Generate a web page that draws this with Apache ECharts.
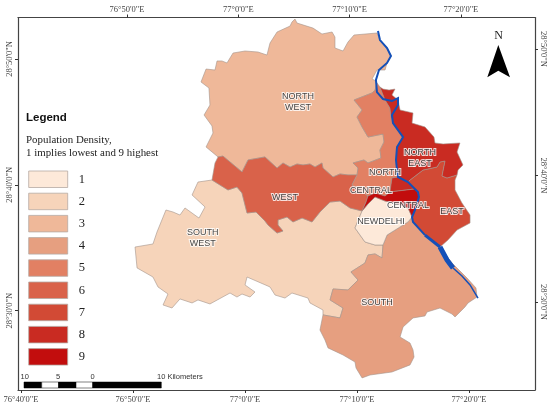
<!DOCTYPE html>
<html>
<head>
<meta charset="utf-8">
<title>Delhi population density</title>
<style>
    html, body { margin: 0; padding: 0; background: #fff; }
    #chart { width: 550px; height: 408px; }
</style>
<script src="https://cdn.jsdelivr.net/npm/echarts@6/dist/echarts.min.js"></script>
</head>
<body>
<div id="chart"></div>
<script>
// all boundaries are in arc minutes: [minutes east of 76°40', minutes north of 28°30']

// boundary pieces, shared between neighbouring districts
const nwOuter = [[17.86,11.87],[16.79,12.66],[17.41,13.77],[17.32,14.33],[16.61,15.20],[17.14,15.99],[17.05,17.34],[16.34,17.82],[16.79,18.85],[17.59,18.77],[17.77,19.49],[18.21,19.49],[18.66,19.33],[19.20,20.12],[20.27,20.28],[21.43,20.20],[22.23,19.96],[22.50,20.91],[23.13,21.79],[24.29,22.26],[24.46,22.58],[24.73,22.82],[24.91,22.50],[26.34,22.10],[27.14,21.63],[28.04,21.79],[28.30,21.39],[28.30,20.52],[29.02,20.28],[29.46,20.99],[30.00,21.55],[32.05,21.71],[32.32,21.15],[32.95,20.52],[33.30,19.88],[32.95,19.33],[32.77,18.77],[32.05,18.77],[31.61,18.06],[31.96,17.90],[32.05,17.74]]
const nwNorth = [[32.05,17.74],[31.88,17.18],[31.61,16.95],[30.00,16.39],[30.72,15.60],[30.27,15.04],[30.72,14.25],[31.25,13.45],[32.59,13.69],[32.68,13.06],[32.32,12.42],[32.41,11.79],[31.25,11.39],[30.89,11.63],[29.91,11.39],[30.36,10.99],[30.27,10.44]]
const nwWest = [[30.27,10.44],[29.46,10.44],[28.75,10.52],[28.13,10.28],[27.23,10.99],[27.14,11.39],[26.52,11.07],[26.07,11.31],[25.45,11.23],[24.91,11.31],[24.29,11.07],[23.66,11.39],[23.13,10.99],[22.05,11.87],[20.54,11.63],[20.00,10.68],[18.30,11.94],[17.86,11.87]]
const westLeft = [[17.86,11.87],[17.59,11.39],[17.32,10.04]]
const westSouth = [[17.32,10.04],[18.75,9.25],[19.55,9.48],[20.00,9.01],[20.45,7.42],[21.25,7.50],[22.05,6.79],[22.32,6.47],[23.13,5.83],[23.66,5.99],[23.21,6.47],[23.21,6.87],[24.02,7.10],[24.55,6.71],[25.36,7.02],[26.25,6.71],[26.96,7.50],[27.86,8.29],[28.75,8.37],[29.64,7.82],[30.72,7.58]]
const westEast = [[30.72,7.58],[31.07,8.29],[31.25,8.77],[30.54,9.25],[29.82,9.64],[30.27,10.44]]
const northStrip = [[31.25,8.77],[31.88,9.01],[32.77,8.77],[33.21,9.09]]
const northRiver = [[32.32,17.42],[32.77,16.39],[33.21,15.75],[33.30,15.04],[33.48,14.56],[34.38,13.45],[33.84,12.66],[33.75,11.63],[33.84,10.83],[33.93,10.28]]
const neTop = [[32.32,17.42],[32.59,17.26],[33.13,17.18],[33.66,17.26],[33.39,16.79],[33.93,16.39],[34.11,15.60],[35.27,15.36],[35.18,14.56],[36.34,14.25],[37.14,13.45],[37.23,12.98],[37.95,12.90],[39.46,12.98],[39.20,12.26],[39.73,11.23],[39.29,10.83],[39.20,10.44]]
const neEast = [[39.20,10.44],[38.30,10.20],[37.86,10.36],[38.13,11.55],[37.68,11.47],[37.41,11.07],[36.16,10.83],[35.00,10.04],[34.82,9.88]]
const eastRight = [[39.20,10.44],[39.02,10.04],[39.02,9.25],[39.64,8.21],[40.36,7.26],[40.36,6.63],[39.20,6.07],[38.39,5.28],[37.68,4.72]]
const eastRiver = [[34.82,9.88],[35.71,9.09],[35.80,8.69],[35.45,7.66],[35.18,7.10],[35.27,6.71],[36.34,5.67],[37.68,4.72]]
const centralPieceRed = [[33.39,10.20],[33.93,10.28],[34.82,9.88],[35.45,9.33],[33.21,9.09]]
const centralLower = [[35.45,9.33],[35.71,9.09],[35.80,8.69],[35.45,7.66],[35.18,7.10]]
const newDelhiTop = [[30.72,7.58],[31.25,8.14],[31.88,8.69],[32.77,8.37],[33.66,8.21],[34.82,7.82],[35.18,7.10]]
const newDelhiSouth = [[35.18,7.10],[34.82,6.71],[32.95,5.67],[32.59,4.88]]
const newDelhiWest = [[32.59,4.88],[31.88,4.88],[30.98,5.12],[30.09,6.23],[30.72,7.58]]
const southEast = [[35.18,7.10],[35.27,6.71],[36.07,6.15],[36.52,6.23],[36.79,5.60],[37.68,4.72],[38.75,3.45],[40.09,2.26],[40.89,1.47],[40.98,0.75],[40.18,0.28],[39.91,-0.04],[39.02,-0.83],[38.75,-0.60],[37.68,-0.12],[36.52,-0.44],[36.34,-0.75],[35.27,-0.91],[34.38,-1.63],[34.11,-2.42],[35.00,-2.90],[35.27,-3.45],[35.36,-4.01],[35.00,-4.64],[33.39,-5.20],[31.43,-5.44],[30.72,-5.67],[30.18,-4.88],[30.09,-4.41],[29.02,-3.85],[27.68,-3.29],[27.41,-2.66],[26.96,-1.87],[27.23,-0.67],[28.75,-0.91]]
const southWestEdge = [[28.75,-0.91],[29.02,-0.12],[27.86,0.52],[28.13,1.39],[29.46,1.31],[30.36,2.10],[29.73,2.74],[30.98,3.45],[31.25,4.09],[31.88,4.17],[32.50,3.85],[32.59,4.88]]
const swOuter = [[17.32,10.04],[16.07,9.88],[15.54,8.85],[16.70,7.90],[16.16,7.02],[14.91,7.82],[14.46,7.26],[13.84,7.50],[13.21,7.66],[12.41,5.91],[12.05,4.96],[10.45,4.72],[10.63,3.06],[12.05,2.34],[12.50,1.55],[13.39,0.99],[12.95,0.12],[13.75,-0.12],[14.46,0.60],[15.54,0.28],[16.07,0.52],[17.14,0.20],[18.93,1.07],[19.55,0.75],[20.00,0.99],[20.72,0.75],[21.16,1.15],[20.27,1.71],[20.45,2.34],[22.50,1.55],[22.95,0.91],[23.84,0.67],[24.46,1.07],[25.89,0.67],[26.07,0.28],[27.23,-0.28],[27.23,-0.67],[28.75,-0.91]]

// river Yamuna, upper course, wide reach, tail
const riverUpper = [[32.14,21.87],[32.32,21.15],[32.95,20.52],[33.30,19.88],[32.95,19.33],[32.23,18.77],[31.96,17.98],[32.05,17.02],[32.59,16.47],[33.39,16.31],[33.93,16.55],[33.93,15.99],[33.39,15.20],[33.48,14.56],[34.38,13.45],[33.84,12.66],[33.75,11.63],[33.84,10.83],[33.93,10.28],[34.82,9.88],[35.71,9.09],[35.80,8.69],[35.45,7.66],[35.18,7.10],[35.27,6.71],[36.34,5.67]]
const riverMiddle = [[36.34,5.67],[37.68,4.72]]
const riverWide = [[37.68,4.72],[38.30,3.69],[38.84,3.06]]
const riverTail = [[38.84,3.06],[39.64,2.42],[40.36,1.71],[41.07,0.67]]

// density classes
const classValues = [1, 2, 3, 4, 5, 6, 7, 8, 9]
const classColors = ['#fde9d9', '#f6d4ba', '#efb899', '#e69f80', '#e28063', '#d9624a', '#d24a35', '#c92b22', '#c20d0d']
const districtNames = ['North West', 'South West', 'West', 'South', 'New Delhi', 'North', 'East', 'North East', 'Central']
const districtClass = [3, 2, 6, 4, 1, 5, 7, 8, 9]

// map labels
const labelTexts = ['NORTH\nWEST', 'WEST', 'SOUTH\nWEST', 'NORTH', 'CENTRAL', 'CENTRAL', 'NEWDELHI', 'NORTH\nEAST', 'EAST', 'SOUTH']
const labelLon = [25.00, 23.84, 16.49, 32.77, 31.52, 34.82, 32.41, 35.89, 38.75, 32.05]
const labelLat = [16.23, 8.63, 5.44, 10.67, 9.17, 7.98, 6.71, 11.75, 7.50, 0.28]

// graticule ticks, minutes from 76°40' and 28°30'
const lonTicksBottom = [0, 10, 20, 30, 40]
const lonTicksTop = [10, 20, 30, 40]
const latTicks = [0, 10, 20]

function join() {
    let ring = []
    for (let i = 0; i < arguments.length; i++) {
        ring = ring.concat(arguments[i])
    }
    return ring
}
function back(arc) {
    return arc.slice().reverse()
}
function toDeg(p) {
    return [76 + (40 + p[0]) / 60, 28 + (30 + p[1]) / 60]
}
function ringDeg(ring) {
    return [ring.map(toDeg)]
}

const rings = [
    [ringDeg(join(nwOuter, nwNorth, nwWest))],
    [ringDeg(join(swOuter, southWestEdge, newDelhiWest, back(westSouth)))],
    [ringDeg(join(westLeft, westSouth, westEast, nwWest))],
    [ringDeg(join(newDelhiSouth.slice().reverse(), southEast, southWestEdge))],
    [ringDeg(join(newDelhiTop, newDelhiSouth, newDelhiWest))],
    [ringDeg(join(nwNorth, back(westEast).slice(0, 3), northStrip, [[33.39,10.20]], back(northRiver), [[32.05,17.74]]))],
    [ringDeg(join(eastRight, back(eastRiver), back(neEast)))],
    [ringDeg(join(neTop, neEast, [[33.93,10.28]], back(northRiver))), ringDeg(centralPieceRed)],
    [ringDeg(join(northStrip, [[35.45,9.33]], centralLower, back(newDelhiTop), westEast.slice(0, 3)))]
]

const delhi = {
    type: 'FeatureCollection',
    features: districtNames.map(function (name, i) {
        return {
            type: 'Feature',
            properties: { name: name },
            geometry: { type: 'MultiPolygon', coordinates: rings[i] }
        }
    })
}
echarts.registerMap('delhi', delhi)

function lonText(v) {
    const total = 76 * 60 + 40 + v
    return Math.floor(total / 60) + '°' + (total % 60) + "'0\"E"
}
function latText(v) {
    const total = 28 * 60 + 30 + v
    return Math.floor(total / 60) + '°' + (total % 60) + "'0\"N"
}

const frameLine = { show: true, onZero: false, lineStyle: { color: '#444', width: 1.2 } }
const tickFont = { fontFamily: 'Liberation Serif', fontSize: 8.5, color: '#444' }

function lonAxis(pos, min, max, ticks, margin) {
    return {
        type: 'value', position: pos, min: min, max: max,
        axisLine: frameLine, splitLine: { show: false },
        axisTick: { show: true, length: 3, customValues: ticks, lineStyle: { color: '#333' } },
        axisLabel: Object.assign({ show: true, margin: margin, customValues: ticks, formatter: lonText }, tickFont)
    }
}
function latAxis(pos, min, max, rotate) {
    return {
        type: 'value', position: pos, min: min, max: max,
        axisLine: frameLine, splitLine: { show: false },
        axisTick: { show: true, length: 3, customValues: latTicks, lineStyle: { color: '#333' } },
        axisLabel: Object.assign({ show: true, rotate: rotate, margin: 4, customValues: latTicks, formatter: latText }, tickFont)
    }
}

// scale bar pieces
function scaleRect(x, w, fill) {
    return { type: 'rect', shape: { x: x, y: 382, width: w, height: 6 }, style: { fill: fill, stroke: '#000', lineWidth: 0.5 } }
}
function scaleText(x, text) {
    return { type: 'text', x: x, y: 372.5, style: { text: text, fill: '#333', font: '7.5px "Liberation Sans"', textAlign: 'left' } }
}
// grey outline round each legend swatch
const swatchOutlines = classValues.map(function (v, i) {
    return {
        type: 'rect', z: 10,
        shape: { x: 28.7, y: 171 + i * 22.2, width: 39, height: 16.5 },
        style: { fill: 'none', stroke: '#b5aaa3', lineWidth: 0.8 }
    }
})

const myChart = echarts.init(document.getElementById('chart'))
myChart.setOption({
    animation: false,
    backgroundColor: '#fff',
    title: [
        { text: 'Legend', left: 26, top: 111.5, padding: 0, textStyle: { fontFamily: 'Liberation Sans', fontSize: 11.5, fontWeight: 'bold', color: '#111' } },
        { text: 'Population Density,\n1 implies lowest and 9 highest', left: 26, top: 134, padding: 0, textStyle: { fontFamily: 'Liberation Serif', fontSize: 10.9, fontWeight: 'normal', color: '#222', lineHeight: 12.5 } }
    ],
    grid: { show: false, left: 18, top: 17.5, width: 517, height: 372.5 },
    xAxis: [
        lonAxis('bottom', -0.268, 45.89, lonTicksBottom, 5),
        lonAxis('top', 0.206, 46.66, lonTicksTop, 3)
    ],
    yAxis: [
        latAxis('left', -6.30, 23.29, 90),
        latAxis('right', -6.96, 22.49, -90)
    ],
    geo: {
        map: 'delhi',
        roam: false,
        silent: true,
        left: 18, top: 17.5, width: 517, height: 372.5,
        aspectScale: 0.889,
        boundingCoords: [toDeg([0, 22.94]), toDeg([46.16, -6.63])],
        label: { show: false },
        itemStyle: { borderColor: '#a3948c', borderWidth: 0.6 },
        emphasis: { disabled: true }
    },
    visualMap: {
        type: 'piecewise',
        seriesIndex: 0,
        inverse: true,
        left: 28.7,
        top: 171,
        padding: 0,
        itemWidth: 39,
        itemHeight: 16.5,
        itemGap: 5.7,
        textGap: 11,
        itemSymbol: 'rect',
        selectedMode: false,
        hoverLink: false,
        textStyle: { fontFamily: 'Liberation Serif', fontSize: 12.5, color: '#222' },
        pieces: classValues.map(function (v, i) {
            return { value: v, label: String(v), color: classColors[i] }
        })
    },
    series: [
        {
            type: 'map',
            geoIndex: 0,
            silent: true,
            data: districtNames.map(function (name, i) {
                return { name: name, value: districtClass[i] }
            })
        },
        {
            type: 'lines',
            coordinateSystem: 'geo',
            polyline: true,
            silent: true,
            z: 4,
            lineStyle: { color: '#1450b8', opacity: 1 },
            data: [
                { coords: riverUpper.map(toDeg), lineStyle: { width: 2 } },
                { coords: riverMiddle.map(toDeg), lineStyle: { width: 3 } },
                { coords: riverWide.map(toDeg), lineStyle: { width: 5 } },
                { coords: riverTail.map(toDeg), lineStyle: { width: 1.5 } }
            ]
        },
        {
            type: 'scatter',
            coordinateSystem: 'geo',
            symbolSize: 0,
            silent: true,
            z: 5,
            label: {
                show: true,
                position: 'inside',
                formatter: '{b}',
                fontFamily: 'Liberation Sans',
                fontSize: 9,
                lineHeight: 11,
                color: '#111',
                textBorderColor: '#fff',
                textBorderWidth: 2
            },
            data: labelTexts.map(function (t, i) {
                return { name: t, value: toDeg([labelLon[i], labelLat[i]]) }
            })
        }
    ],
    graphic: swatchOutlines.concat([
        scaleRect(24, 17.7, '#000'),
        scaleRect(41.7, 16.8, '#fff'),
        scaleRect(58.5, 17.5, '#000'),
        scaleRect(76, 16.7, '#fff'),
        scaleRect(92.7, 68.6, '#000'),
        scaleText(20.5, '10'),
        scaleText(56, '5'),
        scaleText(90.5, '0'),
        scaleText(157, '10 Kilometers'),
        { type: 'text', x: 498.5, y: 30, style: { text: 'N', fill: '#222', font: '12px "Liberation Serif"', textAlign: 'center' } },
        { type: 'polygon', shape: { points: [[498.3, 45], [510, 77.3], [498.3, 70.7], [487.3, 77.3]] }, style: { fill: '#000' } }
    ])
})
</script>
</body>
</html>
